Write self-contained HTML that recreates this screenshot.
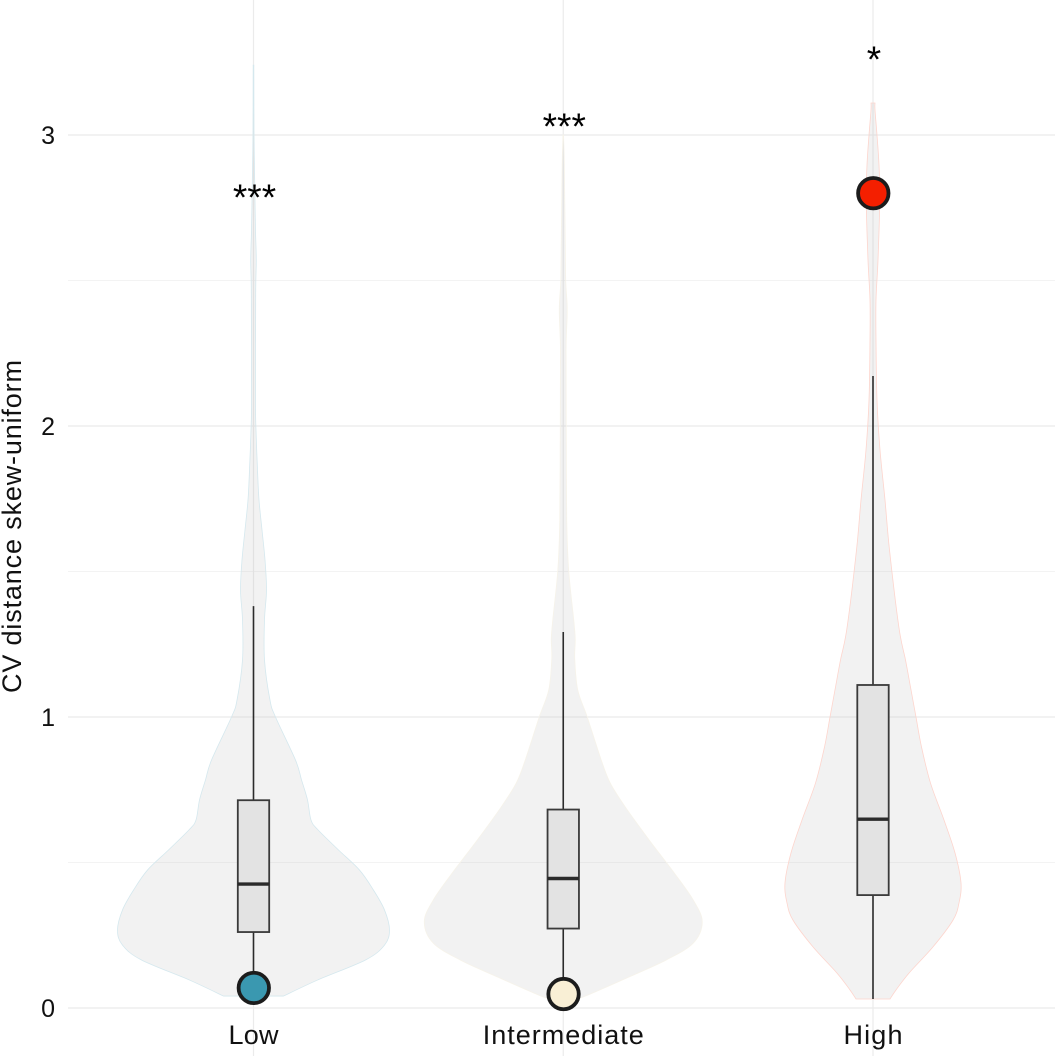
<!DOCTYPE html>
<html lang="en">
<head>
<meta charset="utf-8">
<title>CV distance skew-uniform violin chart</title>
<style>
html,body{margin:0;padding:0;background:#fff;width:1055px;height:1056px;overflow:hidden}
svg{display:block;font-family:"Liberation Sans",sans-serif}
</style>
</head>
<body>
<svg id="chart" xmlns="http://www.w3.org/2000/svg" width="1055" height="1056" viewBox="0 0 1055 1056"></svg>
<script>
const categories = ['Low', 'Intermediate', 'High'];
const yTicks = [0, 1, 2, 3];
const yMinorTicks = [0.5, 1.5, 2.5];
const yTickLabels = ['0', '1', '2', '3'];
const yTitle = 'CV distance skew-uniform';

const lowValues = [0.041,0.096,0.165,0.216,0.268,0.337,0.405,0.474,0.543,0.612,0.646,0.715,0.784,0.852,1.0,1.058,1.196,1.333,1.436,1.54,1.643,1.746,1.849,1.986,2.089,2.457,2.57,2.674,2.88,3.017,3.24];
const lowDensity = [0.30,0.64,1.12,1.31,1.36,1.31,1.20,1.06,0.85,0.645,0.575,0.54,0.48,0.42,0.22,0.165,0.11,0.11,0.13,0.115,0.085,0.055,0.04,0.025,0.02,0.022,0.028,0.02,0.01,0.005,0.003];
const midValues = [0.02,0.038,0.107,0.165,0.223,0.296,0.371,0.464,0.577,0.691,0.773,0.852,1.0,1.093,1.2,1.268,1.333,1.502,1.674,2.0,2.261,2.399,2.498,2.639,2.777,2.914,3.0];
const midDensity = [0.03,0.20,0.66,1.03,1.30,1.39,1.30,1.11,0.86,0.62,0.47,0.38,0.24,0.145,0.115,0.12,0.105,0.055,0.035,0.03,0.028,0.04,0.025,0.02,0.015,0.01,0.003];
const highValues = [0.031,0.062,0.12,0.21,0.302,0.361,0.43,0.533,0.646,0.773,0.897,1.0,1.103,1.196,1.306,1.574,1.746,1.918,2.089,2.296,2.433,2.57,2.777,2.897,3.0,3.086,3.11];
const highDensity = [0.17,0.23,0.36,0.60,0.80,0.86,0.88,0.82,0.71,0.575,0.485,0.43,0.375,0.325,0.26,0.165,0.12,0.07,0.04,0.03,0.03,0.05,0.068,0.06,0.04,0.02,0.02];

const q1Values = [0.261, 0.273, 0.388];
const medianValues = [0.426, 0.445, 0.649];
const q3Values = [0.714, 0.682, 1.11];
const whiskerLow = [0.04, 0.03, 0.031];
const whiskerHigh = [1.381, 1.292, 2.172];
const pointValues = [0.069, 0.048, 2.80];
const pointColors = ['#3a98b0', '#f9efd5', '#f41f00'];
const edgeColors = ['#d5e8ee', '#f6f3ea', '#fdd5cd'];
const significance = ['***', '***', '*'];
const significanceValues = [2.824, 3.069, 3.299];

const svg = document.getElementById('chart');
const NS = 'http://www.w3.org/2000/svg';
const yScale = v => 1008 - v * 291;
const xScale = i => 253.5 + i * 309.75;
const wScale = d => d * 100;

function add(tag, attrs, text) {
  const el = document.createElementNS(NS, tag);
  for (const k in attrs) el.setAttribute(k, attrs[k]);
  if (text !== undefined) el.textContent = text;
  svg.appendChild(el);
  return el;
}
function smooth(pts) {
  let d = 'M' + pts[0][0].toFixed(2) + ' ' + pts[0][1].toFixed(2);
  for (let i = 0; i < pts.length - 1; i++) {
    const p0 = pts[Math.max(i - 1, 0)], p1 = pts[i], p2 = pts[i + 1], p3 = pts[Math.min(i + 2, pts.length - 1)];
    const c1 = [p1[0] + (p2[0] - p0[0]) / 6, p1[1] + (p2[1] - p0[1]) / 6];
    const c2 = [p2[0] - (p3[0] - p1[0]) / 6, p2[1] - (p3[1] - p1[1]) / 6];
    d += 'C' + c1[0].toFixed(2) + ' ' + c1[1].toFixed(2) + ' ' + c2[0].toFixed(2) + ' ' + c2[1].toFixed(2) + ' ' + p2[0].toFixed(2) + ' ' + p2[1].toFixed(2);
  }
  return d;
}

// grid
yMinorTicks.forEach(t => {
  const el = add('line', {x1: 68, x2: 1055, y1: yScale(t), y2: yScale(t), stroke: '#f3f3f3', 'stroke-width': 1});
  
  
});
yTicks.forEach(t => {
  const el = add('line', {x1: 68, x2: 1055, y1: yScale(t), y2: yScale(t), stroke: '#ebebeb', 'stroke-width': 1.2});
  
  
});
categories.forEach((c, i) => {
  const el = add('line', {x1: xScale(i), x2: xScale(i), y1: 0, y2: 1056, stroke: '#ebebeb', 'stroke-width': 1.2});
  
  
});

// violins
const violinValues = [lowValues, midValues, highValues];
const violinDensity = [lowDensity, midDensity, highDensity];
categories.forEach((c, i) => {
  const cx = xScale(i);
  const left = violinValues[i].map((v, j) => [cx - wScale(violinDensity[i][j]), yScale(v)]);
  const right = violinValues[i].map((v, j) => [cx + wScale(violinDensity[i][j]), yScale(v)]).reverse();
  const d = smooth(left) + smooth(right).replace(/^M/, 'L') + 'Z';
  const el = add('path', {d: d, fill: '#b0b0b0', 'fill-opacity': 0.17, stroke: edgeColors[i], 'stroke-width': 0.8});
  
  
});

// boxplots
const boxHalf = 15.7;
categories.forEach((c, i) => {
  const cx = xScale(i);
  const whisker = add('line', {x1: cx, x2: cx, y1: yScale(whiskerHigh[i]), y2: yScale(whiskerLow[i]), stroke: '#2b2b2b', 'stroke-width': 1.6});
  
  
  const box = add('rect', {x: cx - boxHalf, width: boxHalf * 2, y: yScale(q3Values[i]), height: yScale(q1Values[i]) - yScale(q3Values[i]), fill: '#e3e3e3', stroke: '#3a3a3a', 'stroke-width': 1.8});
  
  
  const med = add('line', {x1: cx - boxHalf, x2: cx + boxHalf, y1: yScale(medianValues[i]), y2: yScale(medianValues[i]), stroke: '#2a2a2a', 'stroke-width': 3.4});
  
  
  const pt = add('circle', {cx: cx + 0.3, cy: yScale(pointValues[i]), r: 15.2, fill: pointColors[i], stroke: '#1c1c1c', 'stroke-width': 3.8});
  
  
  const star = add('text', {x: cx + 1, y: yScale(significanceValues[i]) + 24, 'text-anchor': 'middle', 'font-size': 37, fill: '#000'}, significance[i]);
  
  
  const label = add('text', {x: cx, y: 1044, 'text-anchor': 'middle', 'font-size': 27, fill: '#111'}, c);
  label.setAttribute('textLength', ({Low: 50, Intermediate: 161, High: 59})[c]);
  
  
});

// y tick labels
yTicks.forEach((t, i) => {
  const el = add('text', {x: 55, y: yScale(t) + 9, 'text-anchor': 'end', 'font-size': 25, fill: '#111'}, yTickLabels[i]);
  
  
});

// y axis title
const title = add('text', {transform: 'translate(21,526.5) rotate(-90)', 'text-anchor': 'middle', 'font-size': 27, fill: '#111', textLength: 333}, yTitle);


</script>
</body>
</html>
